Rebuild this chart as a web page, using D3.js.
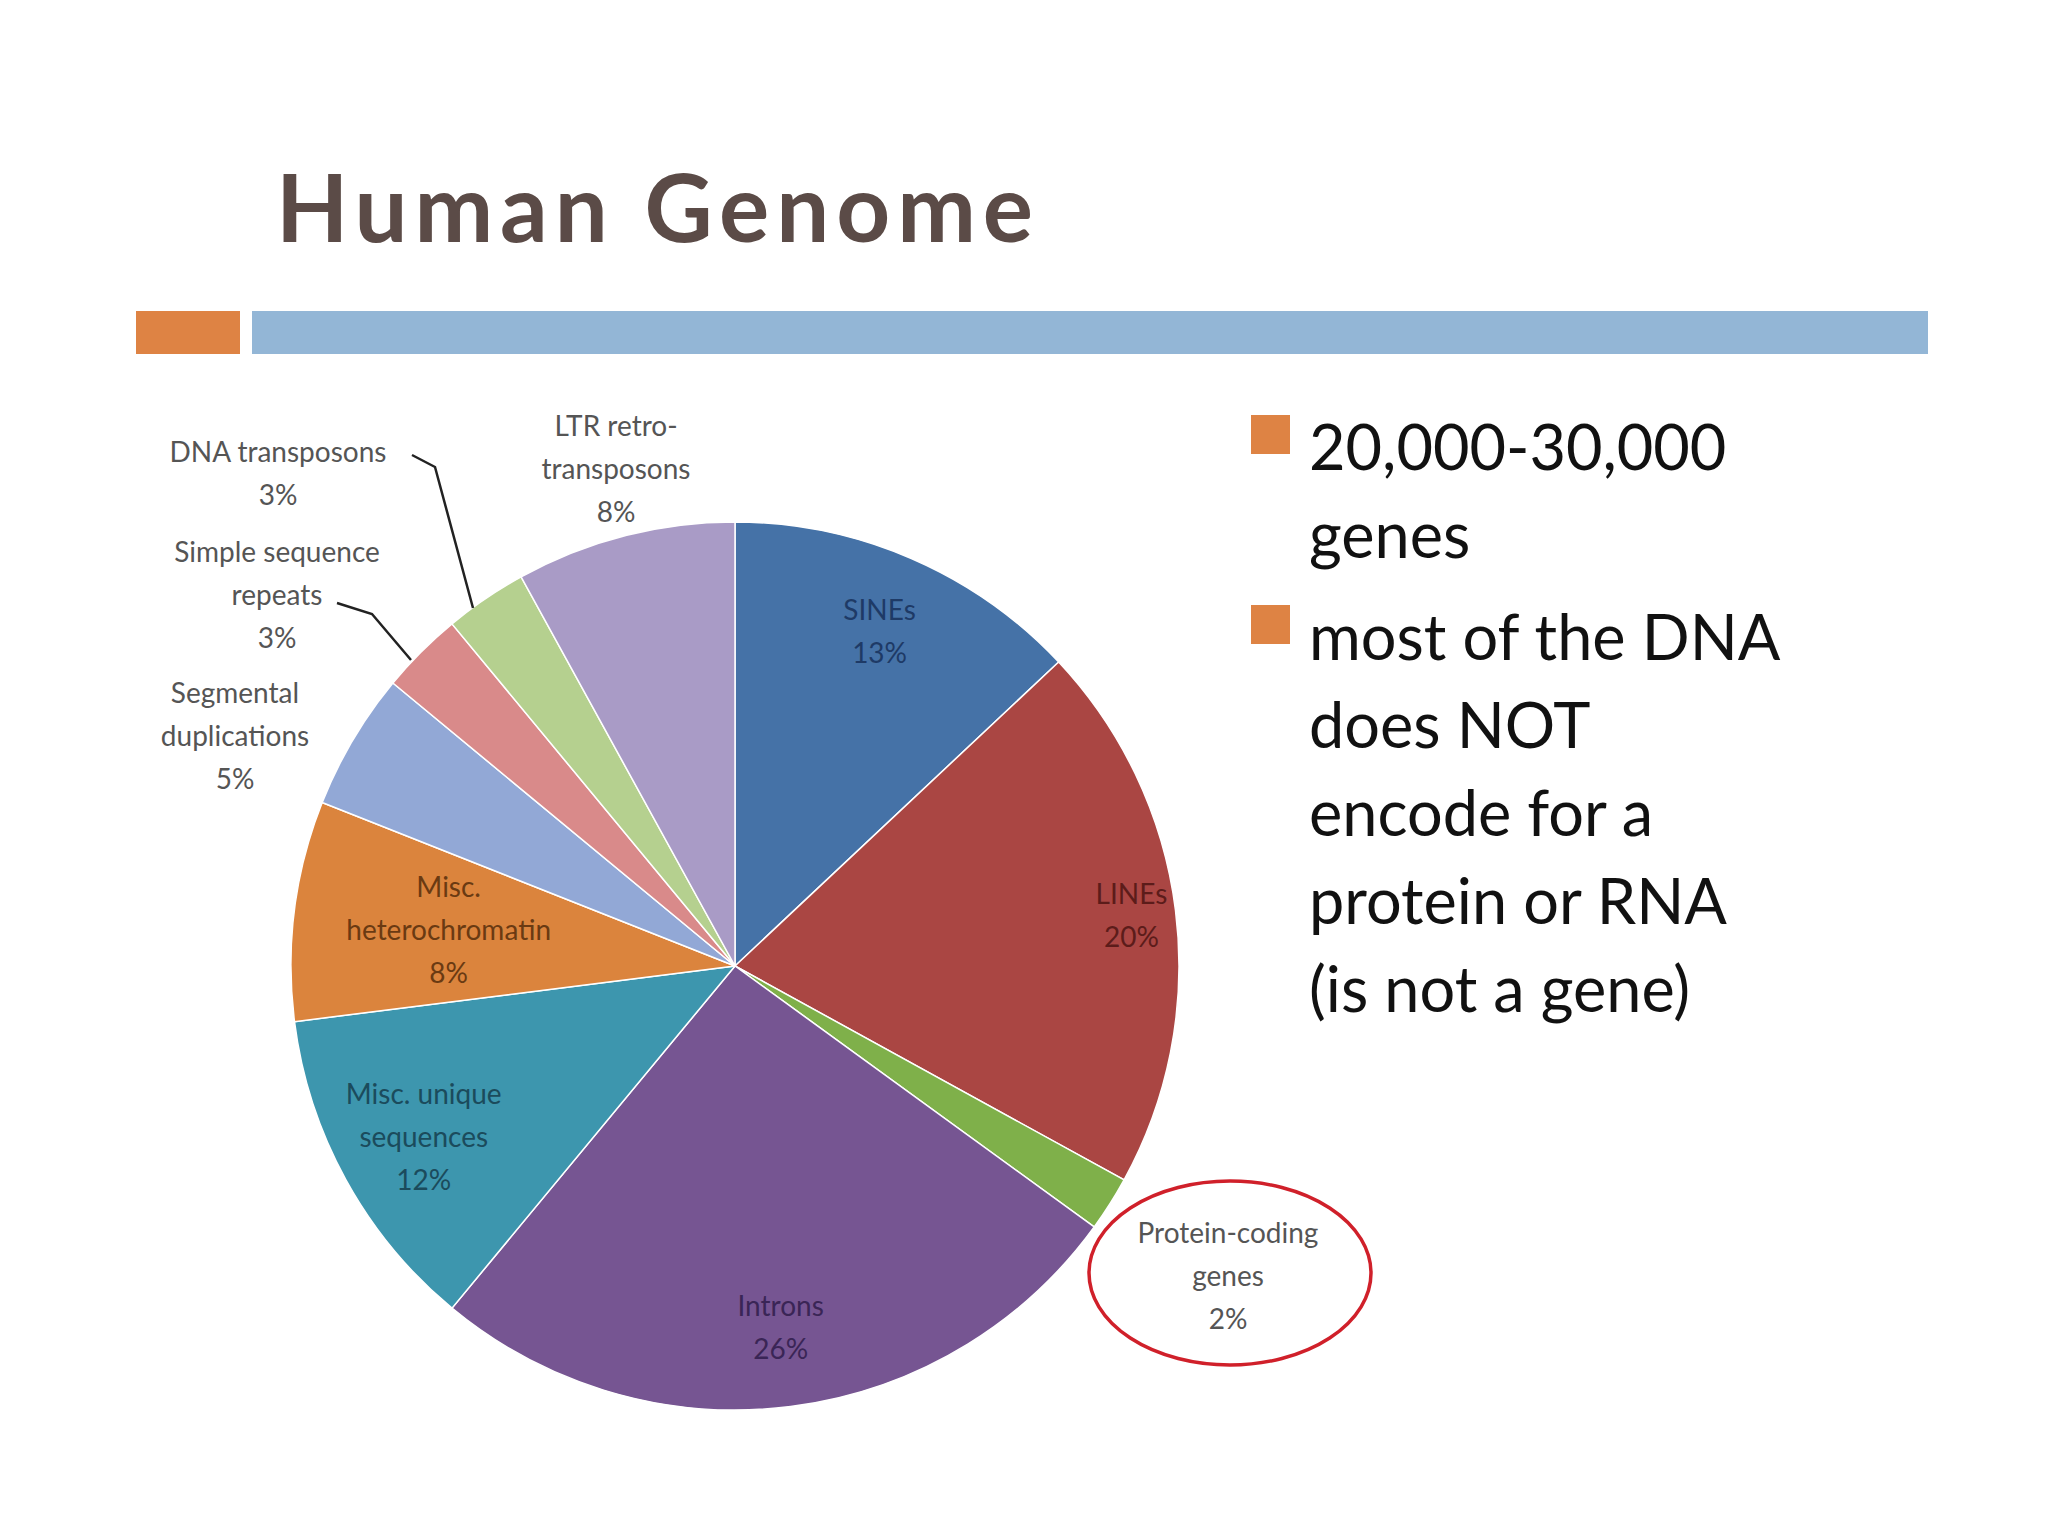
<!DOCTYPE html>
<html><head><meta charset="utf-8">
<script src="https://cdn.jsdelivr.net/npm/d3@7"></script>
<style>body{margin:0;background:#fff}</style>
</head><body>
<script>
var categories = ['SINEs', 'LINEs', 'Protein-coding genes', 'Introns', 'Misc. unique sequences',
  'Misc. heterochromatin', 'Segmental duplications', 'Simple sequence repeats', 'DNA transposons', 'LTR retro-transposons'];
var values = [13, 20, 2, 26, 12, 8, 5, 3, 3, 8];
var labelLines = [['SINEs'], ['LINEs'], ['Protein-coding', 'genes'], ['Introns'], ['Misc. unique', 'sequences'],
  ['Misc.', 'heterochromatin'], ['Segmental', 'duplications'], ['Simple sequence', 'repeats'], ['DNA transposons'], ['LTR retro-', 'transposons']];
var bullets = [['20,000-30,000', 'genes'], ['most of the DNA', 'does NOT', 'encode for a', 'protein or RNA', '(is not a gene)']];

var colours = ['#4572A7', '#AA4643', '#7FB04A', '#765592', '#3D96AE', '#DB843D', '#92A8D6', '#D98A8A', '#B5D08F', '#A99BC6'];
var textColours = ['#1e3a66', '#5c1c1a', '#555', '#3a2556', '#1b4b5c', '#6a3a12', '#555', '#555', '#555', '#555'];
var labelRadius = [0.82, 0.9, 0, 0.82, 0.8, 0.65, 0, 0, 0, 0];
// outside labels: [x, y of first line] in px
var outside = {2: [1228, 1243], 6: [235, 703], 7: [277, 562], 8: [278, 462], 9: [616, 436]};

var w = 2048, h = 1536;
var svg = d3.select('body').append('svg').attr('width', w).attr('height', h)
  .style('font-family', 'Lato, "Open Sans", sans-serif');

svg.append('text').text('Human Genome').attr('x', 276).attr('y', 242)
  .attr('font-size', 94).attr('font-weight', 'bold').attr('fill', '#5b4b47')
  .attr('textLength', 757).attr('lengthAdjust', 'spacing');
svg.append('rect').attr('x', 136).attr('y', 311).attr('width', 104).attr('height', 43).attr('fill', '#DE8344');
svg.append('rect').attr('x', 252).attr('y', 311).attr('width', 1676).attr('height', 43).attr('fill', '#93B6D6');

var by = [470, 660], lh = 88;
bullets.forEach(function(lines, i){
  svg.append('rect').attr('x', 1251).attr('y', by[i] - 55).attr('width', 39).attr('height', 39).attr('fill', '#DE8344');
  lines.forEach(function(t, j){
    svg.append('text').text(t).attr('x', 1309).attr('y', by[i] + j * lh)
      .attr('font-size', 63).attr('fill', '#111');
  });
});

var cx = 735, cy = 966, r = 444;
var pie = d3.pie().sort(null).value(function(d){ return d; });
var arcs = pie(values);
var arc = d3.arc().innerRadius(0).outerRadius(r);
var g = svg.append('g').attr('transform', 'translate(' + cx + ',' + cy + ')');

g.selectAll('path').data(arcs).enter().append('path')
  .attr('d', arc).attr('fill', function(d, i){ return colours[i]; })
  .attr('stroke', '#fff').attr('stroke-width', 1.5);

arcs.forEach(function(d, i){
  var lines = labelLines[i].concat([values[i] + '%']);
  var x, y0;
  if (outside[i]) { x = outside[i][0]; y0 = outside[i][1]; }
  else {
    var lr = r * labelRadius[i];
    var c = d3.arc().innerRadius(lr).outerRadius(lr).centroid(d);
    x = cx + c[0]; y0 = cy + c[1] - (lines.length - 1) * 43 / 2 + 10;
  }
  lines.forEach(function(t, j){
    svg.append('text').text(t).attr('x', x).attr('y', y0 + j * 43)
      .attr('text-anchor', 'middle').attr('font-size', 28)
      .attr('fill', outside[i] ? '#555' : textColours[i]);
  });
});

var line = d3.line();
svg.append('path').attr('d', line([[412, 455], [435, 467], [473, 608]])).attr('stroke', '#222').attr('stroke-width', 2.5).attr('fill', 'none');
svg.append('path').attr('d', line([[337, 603], [372, 614], [411, 660]])).attr('stroke', '#222').attr('stroke-width', 2.5).attr('fill', 'none');

svg.append('ellipse').attr('cx', 1230).attr('cy', 1273).attr('rx', 141).attr('ry', 92)
  .attr('fill', 'none').attr('stroke', '#d0202a').attr('stroke-width', 3.5);
</script>
</body></html>
